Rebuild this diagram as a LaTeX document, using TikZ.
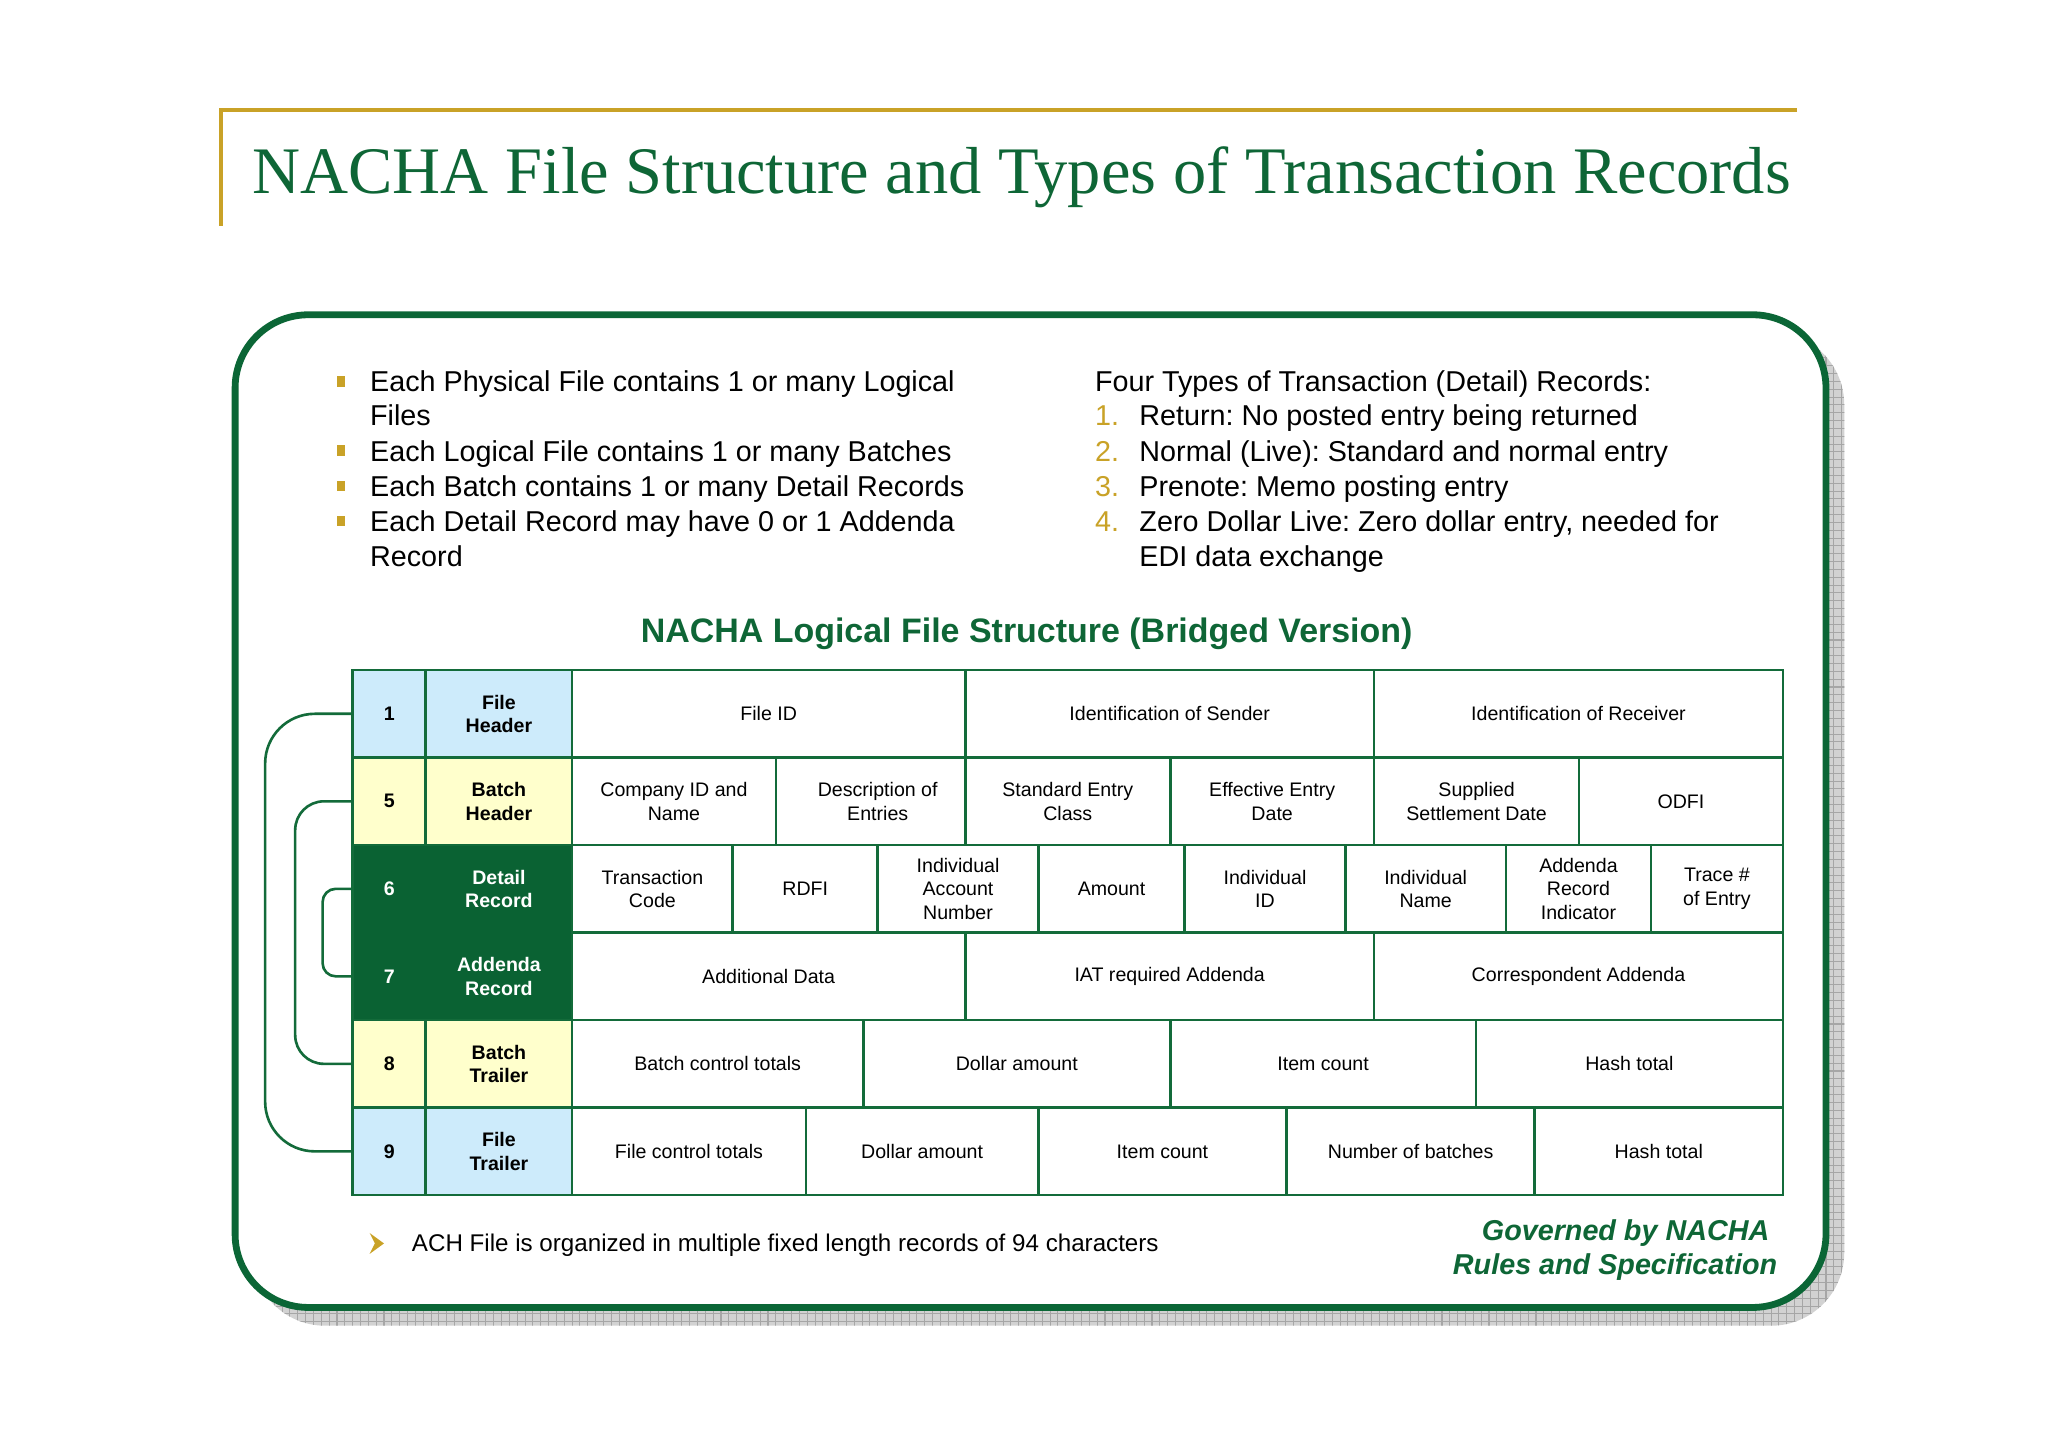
\documentclass[tikz,border=0pt]{standalone}
\usepackage{fontspec}
\setmainfont{Liberation Sans}
\newfontfamily\mytitlefont{Liberation Serif}
\usetikzlibrary{patterns}
\frenchspacing
\definecolor{gold}{HTML}{C9A227}
\definecolor{tgreen}{HTML}{136B3A}
\definecolor{cardgreen}{HTML}{0B6636}
\definecolor{dgreen}{HTML}{0A6233}
\definecolor{titlegreen}{HTML}{0E6636}
\definecolor{lblue}{HTML}{CDEBFB}
\definecolor{lyellow}{HTML}{FFFFCC}
\newcommand\mycellfont{\fontsize{7.5}{9}\selectfont}
\newcommand\mybodyfont{\fontsize{11}{13.4}\selectfont}
\newcommand\tcell[6]{\node[cellbox,#6,minimum width={(#3-#2)*0.5pt}] (#1) at ({(#2+#3)/2},{#4}) {#5};}
\tikzset{
  cellbox/.style={draw=tgreen, line width=1pt, inner sep=1pt, outer sep=0pt, align=center, font=\mycellfont, minimum height=33.5pt},
  darkcell/.style={inner sep=1pt, outer sep=0pt, align=center, text=white, font=\mycellfont\bfseries, minimum height=33.5pt},
  body/.style={anchor=base west, inner sep=0pt, font=\mybodyfont},
  num/.style={anchor=base west, inner sep=0pt, font=\mybodyfont, text=gold},
  brk/.style={draw=tgreen, line width=1pt},
}
\begin{document}
\frenchspacing
\begin{tikzpicture}[x=0.5pt,y=-0.5pt]
\useasboundingbox (0,0) rectangle (1568,1108);
% title
\draw[gold, line width=1.5pt] (1376,84) -- (169,84) -- (169,173);
\node[anchor=base west, inner sep=0pt, text=titlegreen, font=\mytitlefont\fontsize{25.45}{30}\selectfont] (title) at (193,148) {NACHA File Structure and Types of Transaction Records};
% card
\fill[gray!35, rounded corners=28pt] (193,254) rectangle (1412,1015);
\pattern[pattern=grid, pattern color=gray!70, rounded corners=28pt] (193,254) rectangle (1412,1015);
\draw[line width=2.6pt, draw=cardgreen, fill=white, rounded corners=28pt] (180,241) rectangle (1398,1001);
% left bullets
\foreach \y in {292,345,372,399} {\fill[gold] (258,{\y-4}) rectangle (264,{\y+4});}
\node[body] (b1a) at (283,299.5) {Each Physical File contains 1 or many Logical};
\node[body] (b1b) at (283,326) {Files};
\node[body] (b2) at (283,353) {Each Logical File contains 1 or many Batches};
\node[body] (b3) at (283,380) {Each Batch contains 1 or many Detail Records};
\node[body] (b4a) at (283,407) {Each Detail Record may have 0 or 1 Addenda};
\node[body] (b4b) at (283,434) {Record};
% right list
\node[body] (r0) at (838,299.5) {Four Types of Transaction (Detail) Records:};
\node[num] (k1) at (838,326) {1.};
\node[body] (r1) at (872,326) {Return: No posted entry being returned};
\node[num] (k2) at (838,353) {2.};
\node[body] (r2) at (872,353) {Normal (Live): Standard and normal entry};
\node[num] (k3) at (838,380) {3.};
\node[body] (r3) at (872,380) {Prenote: Memo posting entry};
\node[num] (k4) at (838,407) {4.};
\node[body] (r4a) at (872,407) {Zero Dollar Live: Zero dollar entry, needed for};
\node[body] (r4b) at (872,434) {EDI data exchange};
% subtitle
\node[anchor=base, inner sep=0pt, text=titlegreen, font=\fontsize{13}{15}\selectfont\bfseries] (sub) at (786,492) {NACHA Logical File Structure (Bridged Version)};
% row 1
\tcell{n1}{270}{326}{546.5}{1}{fill=lblue,font=\mycellfont\bfseries}
\tcell{l1}{326}{438}{546.5}{File\\Header}{fill=lblue,font=\mycellfont\bfseries}
\tcell{c11}{438}{739}{546.5}{File ID}{}
\tcell{c12}{739}{1052}{546.5}{Identification of Sender}{}
\tcell{c13}{1052}{1365}{546.5}{Identification of Receiver}{}
% row 5
\tcell{n5}{270}{326}{613.5}{5}{fill=lyellow,font=\mycellfont\bfseries}
\tcell{l5}{326}{438}{613.5}{Batch\\Header}{fill=lyellow,font=\mycellfont\bfseries}
\tcell{c51}{438}{594}{613.5}{Company ID and\\Name}{}
\tcell{c52}{594}{739}{613.5}{\hspace*{5.5pt}Description of\\\hspace*{5.5pt}Entries}{}
\tcell{c53}{739}{896}{613.5}{Standard Entry\\Class}{}
\tcell{c54}{896}{1052}{613.5}{Effective Entry\\Date}{}
\tcell{c55}{1052}{1209}{613.5}{Supplied\\Settlement Date}{}
\tcell{c56}{1209}{1365}{613.5}{ODFI}{}
% dark block rows 6-7
\node[draw=tgreen, fill=dgreen, line width=1pt, outer sep=0pt, minimum width=84pt, minimum height=67pt] (dark) at (354,714) {};
\node[darkcell, minimum width=28pt] (n6) at (298,680.5) {6};
\node[darkcell, minimum width=56pt] (l6) at (382,680.5) {Detail\\Record};
\node[darkcell, minimum width=28pt] (n7) at (298,747.5) {7};
\node[darkcell, minimum width=56pt] (l7) at (382,747.5) {Addenda\\Record};
% row 6
\tcell{c61}{438}{561}{680.5}{Transaction\\Code}{}
\tcell{c62}{561}{672}{680.5}{RDFI}{}
\tcell{c63}{672}{795}{680.5}{Individual\\Account\\Number}{}
\tcell{c64}{795}{907}{680.5}{Amount}{}
\tcell{c65}{907}{1030}{680.5}{Individual\\ID}{}
\tcell{c66}{1030}{1153}{680.5}{Individual\\Name}{}
\tcell{c67}{1153}{1264}{680.5}{Addenda\\Record\\Indicator}{}
\tcell{c68}{1264}{1365}{680.5}{Trace \#\\of Entry}{}
% row 7
\tcell{c71}{438}{739}{747.5}{Additional Data}{}
\tcell{c72}{739}{1052}{747.5}{IAT required Addenda}{}
\tcell{c73}{1052}{1365}{747.5}{Correspondent Addenda}{}
% row 8
\tcell{n8}{270}{326}{814.5}{8}{fill=lyellow,font=\mycellfont\bfseries}
\tcell{l8}{326}{438}{814.5}{Batch\\Trailer}{fill=lyellow,font=\mycellfont\bfseries}
\tcell{c81}{438}{661}{814.5}{Batch control totals}{}
\tcell{c82}{661}{896}{814.5}{Dollar amount}{}
\tcell{c83}{896}{1130}{814.5}{Item count}{}
\tcell{c84}{1130}{1365}{814.5}{Hash total}{}
% row 9
\tcell{n9}{270}{326}{881.5}{9}{fill=lblue,font=\mycellfont\bfseries}
\tcell{l9}{326}{438}{881.5}{File\\Trailer}{fill=lblue,font=\mycellfont\bfseries}
\tcell{c91}{438}{617}{881.5}{File control totals}{}
\tcell{c92}{617}{795}{881.5}{Dollar amount}{}
\tcell{c93}{795}{985}{881.5}{Item count}{}
\tcell{c94}{985}{1175}{881.5}{Number of batches}{}
\tcell{c95}{1175}{1365}{881.5}{Hash total}{}
% brackets
\coordinate (bo) at (203,714);
\coordinate (bm) at (226,714);
\coordinate (bi) at (247,714);
\draw[brk, rounded corners=19pt] (n1.west) -| (bo) |- (n9.west);
\draw[brk, rounded corners=11pt] (n5.west) -| (bm) |- (n8.west);
\draw[brk, rounded corners=5pt] (n6.west) -| (bi) |- (n7.west);
% footer
\fill[gold] (283,944) -- (294,952) -- (283,960) -- (287,952) -- cycle;
\node[anchor=base west, inner sep=0pt, font=\fontsize{9.25}{11}\selectfont] (foot) at (315,958.5) {ACH File is organized in multiple fixed length records of 94 characters};
\node[anchor=base east, inner sep=0pt, text=titlegreen, font=\fontsize{11}{13}\selectfont\bfseries\itshape] (gov1) at (1355,949.5) {Governed by NACHA};
\node[anchor=base east, inner sep=0pt, text=titlegreen, font=\fontsize{11}{13}\selectfont\bfseries\itshape] (gov2) at (1361,975.5) {Rules and Specification};
\end{tikzpicture}
\end{document}
